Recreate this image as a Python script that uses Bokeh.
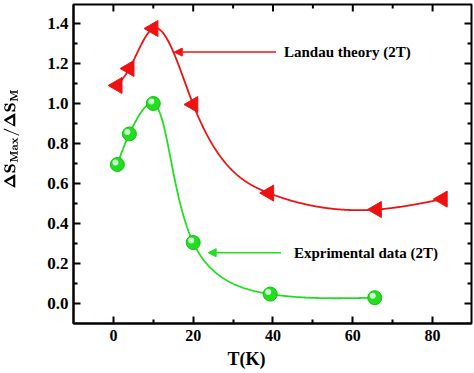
import numpy as np
from bokeh.plotting import figure
from bokeh.models import (Range1d, LinearAxis, FixedTicker, Label, Arrow,
                          NormalHead, NumeralTickFormatter, TeX, Title)
from bokeh.embed import file_html
from bokeh.resources import INLINE

# ---- data ----
T_theory = [1, 4, 10, 20, 39, 66, 82.5]
ratio_theory = [1.09, 1.175, 1.375, 0.995, 0.552, 0.47, 0.522]
T_exp = [1, 4, 10, 20, 39.3, 65.5]
ratio_exp = [0.695, 0.848, 1.0, 0.305, 0.047, 0.029]

x_major_ticks = [0, 20, 40, 60, 80]
x_minor_ticks = [10, 30, 50, 70]
y_major_ticks = [0.0, 0.2, 0.4, 0.6, 0.8, 1.0, 1.2, 1.4]
y_minor_ticks = [0.1, 0.3, 0.5, 0.7, 0.9, 1.1, 1.3]

label_theory = "Landau theory (2T)"
label_exp = "Exprimental data (2T)"
x_title = "T(K)"
y_title = r"\hspace{3.2em}\mathbf{\Delta S_{Max}/\Delta S_M}"

RED = "#ee1111"
GREEN = "#22dd22"
FONT = "Liberation Serif"

X0, X1 = -10, 89.75
Y0, Y1 = -0.1, 1.495
W, H = 474, 373
FL, FR, FT, FB = 72, 471, 4, 323          # frame edges (page px)
px_x = (FR - FL) / (X1 - X0)
px_y = (FB - FT) / (Y1 - Y0)


def natural_coeffs(t, y):
    t = np.asarray(t, float)
    y = np.asarray(y, float)
    m = len(t)
    h = np.diff(t)
    A = np.zeros((m, m))
    b = np.zeros(m)
    A[0, 0] = A[-1, -1] = 1
    for i in range(1, m - 1):
        A[i, i - 1] = h[i - 1]
        A[i, i] = 2 * (h[i - 1] + h[i])
        A[i, i + 1] = h[i]
        b[i] = 3 * ((y[i + 1] - y[i]) / h[i] - (y[i] - y[i - 1]) / h[i - 1])
    c = np.linalg.solve(A, b)

    def ev(ts):
        idx = np.clip(np.searchsorted(t, ts) - 1, 0, m - 2)
        d = ts - t[idx]
        hi = h[idx]
        bc = (y[idx + 1] - y[idx]) / hi - hi * (2 * c[idx] + c[idx + 1]) / 3
        dc = (c[idx + 1] - c[idx]) / (3 * hi)
        return y[idx] + bc * d + c[idx] * d ** 2 + dc * d ** 3
    return ev


def spline_in_x(x, y, n=600):
    xs = np.linspace(x[0], x[-1], n)
    return xs, natural_coeffs(x, y)(xs)


def spline_centripetal(x, y, n=600):
    """Parametric natural spline in screen space, centripetal knots."""
    sx = np.asarray(x, float) * px_x
    sy = np.asarray(y, float) * px_y
    seg = np.sqrt(np.hypot(np.diff(sx), np.diff(sy)))
    t = np.concatenate([[0], np.cumsum(seg)])
    ts = np.linspace(0, t[-1], n)
    return natural_coeffs(t, sx)(ts) / px_x, natural_coeffs(t, sy)(ts) / px_y


p = figure(width=W, height=H, output_backend="svg", toolbar_location=None,
           x_range=Range1d(X0, X1), y_range=Range1d(Y0, Y1),
           min_border_left=FL, min_border_right=W - FR, min_border_top=FT,
           min_border_bottom=H - FB, x_axis_location=None, y_axis_location=None)
p.xgrid.visible = False
p.ygrid.visible = False
p.outline_line_color = "black"
p.outline_line_width = 2
p.background_fill_color = "white"
p.border_fill_color = "white"


def style_axis(ax):
    ax.axis_line_width = 2
    ax.major_tick_line_width = 2
    ax.minor_tick_line_width = 2
    ax.major_tick_in = 7
    ax.major_tick_out = 0
    ax.minor_tick_in = 4
    ax.minor_tick_out = 0
    ax.major_label_text_font = FONT
    ax.major_label_text_font_style = "bold"
    ax.major_label_text_color = "black"
    ax.axis_label_text_font = FONT
    ax.axis_label_text_font_style = "bold"
    ax.axis_label_text_color = "black"
    return ax


xax = style_axis(LinearAxis(ticker=FixedTicker(ticks=x_major_ticks,
                                               minor_ticks=x_minor_ticks)))
xax.major_label_text_font_size = "16px"
xax.major_label_standoff = 6
p.add_layout(xax, "below")
p.add_layout(Title(text=x_title, align="left", offset=154, standoff=6,
                   text_font=FONT, text_font_style="bold",
                   text_font_size="18px", text_color="black"), "below")

yax = style_axis(LinearAxis(ticker=FixedTicker(ticks=y_major_ticks,
                                               minor_ticks=y_minor_ticks)))
yax.formatter = NumeralTickFormatter(format="0.0")
yax.major_label_text_font_size = "17px"
yax.major_label_standoff = 5
yax.axis_label = TeX(text=y_title)
yax.axis_label_text_font_size = "14px"
yax.axis_label_standoff = 25
p.add_layout(yax, "left")

# mirrored ticks on top and right edges
maj_y = 7 / px_y
min_y = 4 / px_y
p.segment(x0=x_major_ticks, y0=[Y1] * len(x_major_ticks), x1=x_major_ticks,
          y1=[Y1 - maj_y] * len(x_major_ticks), line_color="black", line_width=2)
p.segment(x0=x_minor_ticks, y0=[Y1] * len(x_minor_ticks), x1=x_minor_ticks,
          y1=[Y1 - min_y] * len(x_minor_ticks), line_color="black", line_width=2)
maj_x = 7 / px_x
min_x = 4 / px_x
p.segment(x0=[X1] * len(y_major_ticks), y0=y_major_ticks,
          x1=[X1 - maj_x] * len(y_major_ticks), y1=y_major_ticks,
          line_color="black", line_width=2)
p.segment(x0=[X1] * len(y_minor_ticks), y0=y_minor_ticks,
          x1=[X1 - min_x] * len(y_minor_ticks), y1=y_minor_ticks,
          line_color="black", line_width=2)

# ---- curves ----
xs, ys = spline_in_x(T_theory, ratio_theory)
p.line(xs, ys, line_color=RED, line_width=1.8)
xs2, ys2 = spline_centripetal(T_exp, ratio_exp)
p.line(xs2, ys2, line_color=GREEN, line_width=1.8)

# ---- markers ----
p.scatter(T_theory, ratio_theory, marker="triangle", size=16, angle=np.pi / 2,
          fill_color=RED, line_color=RED)
p.scatter(T_exp, ratio_exp, marker="circle", size=14, fill_color=GREEN,
          line_color="#11c011", line_width=1)
hx = [t - 2.0 / px_x for t in T_exp]
hy = [r + 2.0 / px_y for r in ratio_exp]
p.scatter(hx, hy, marker="circle", size=6, fill_color="#c8ffc8", line_color=None)

# ---- arrows & annotations ----
p.add_layout(Arrow(end=NormalHead(size=8, fill_color=RED, line_color=RED),
                   x_start=40.75, y_start=1.257, x_end=15.25, y_end=1.257,
                   line_color=RED, line_width=1.5))
p.add_layout(Arrow(end=NormalHead(size=8, fill_color=GREEN, line_color=GREEN),
                   x_start=42, y_start=0.254, x_end=23.75, y_end=0.254,
                   line_color=GREEN, line_width=1.5))
p.add_layout(Label(x=42.75, y=1.257, text=label_theory, text_font=FONT,
                   text_font_style="bold", text_font_size="15px",
                   text_baseline="middle", text_color="black"))
p.add_layout(Label(x=45.25, y=0.254, text=label_exp, text_font=FONT,
                   text_font_style="bold", text_font_size="15px",
                   text_baseline="middle", text_color="black"))

open("out.html", "w").write(file_html(p, INLINE))
